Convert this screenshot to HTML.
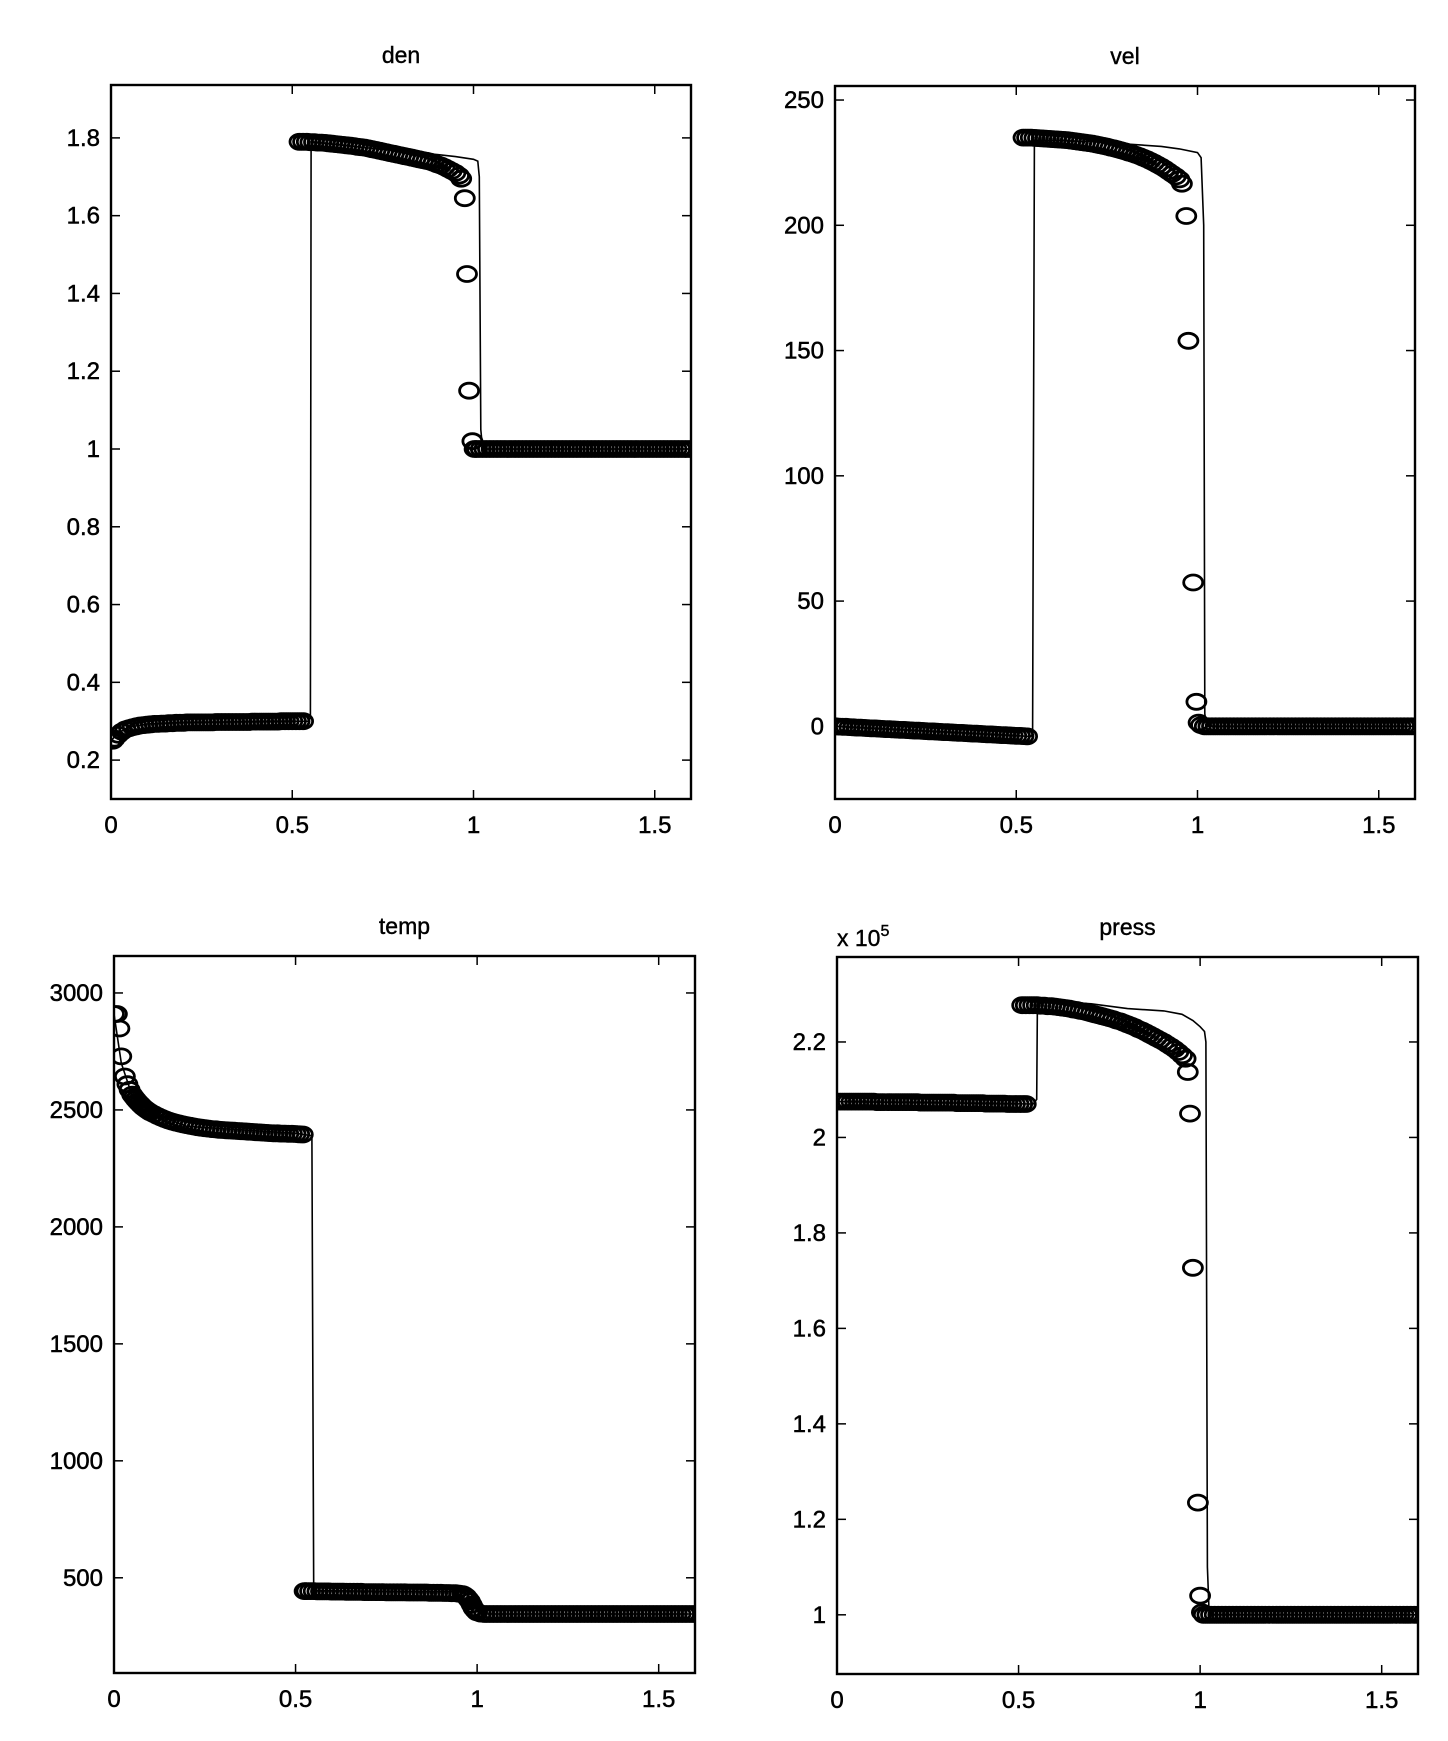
<!DOCTYPE html>
<html><head><meta charset="utf-8"><title>Shock tube profiles</title>
<style>
html,body{margin:0;padding:0;background:#fff;}
svg{display:block;font-family:"Liberation Sans",Arial,sans-serif;}
</style></head>
<body>
<svg id="fig" width="1448" height="1741" viewBox="0 0 1448 1741" xmlns="http://www.w3.org/2000/svg"></svg>
<script>
// ---- shared x ticks ----
const xTicks = [0, 0.5, 1, 1.5];
const xTickLabels = ["0", "0.5", "1", "1.5"];

// ---- den ----
const denTicks = [0.2,0.4,0.6,0.8,1,1.2,1.4,1.6,1.8];
const denTickLabels = ["0.2","0.4","0.6","0.8","1","1.2","1.4","1.6","1.8"];
const denCircles = [[0,0.25],[0.005,0.25],[0.01,0.255],[0.02,0.265],[0.03,0.273],[0.04,0.279],[0.05,0.282],[0.06,0.285],[0.07,0.287],[0.08,0.289],[0.09,0.29],[0.10,0.291],[0.11,0.292],[0.12,0.293],[0.13,0.293],[0.14,0.294],[0.15,0.294],[0.16,0.295],[0.17,0.295],[0.18,0.296],[0.19,0.296],[0.20,0.296],
[0.21,0.297],[0.22,0.297],[0.23,0.297],[0.24,0.297],[0.25,0.297],[0.26,0.297],[0.27,0.297],[0.28,0.297],[0.29,0.298],[0.30,0.298],[0.31,0.298],[0.32,0.298],[0.33,0.298],[0.34,0.298],[0.35,0.298],[0.36,0.298],[0.37,0.298],[0.38,0.298],[0.39,0.299],[0.40,0.299],[0.41,0.299],[0.42,0.299],[0.43,0.299],[0.44,0.299],[0.45,0.299],[0.46,0.299],[0.47,0.3],[0.48,0.3],[0.49,0.3],[0.50,0.3],[0.51,0.3],[0.52,0.3],[0.53,0.3],
[0.52,1.79],[0.53,1.79],[0.54,1.79],[0.55,1.789],[0.56,1.789],[0.57,1.788],[0.58,1.788],[0.59,1.787],[0.60,1.786],[0.61,1.785],[0.62,1.784],[0.63,1.783],[0.64,1.782],[0.65,1.781],[0.66,1.78],[0.67,1.779],[0.68,1.777],[0.69,1.776],[0.70,1.775],[0.71,1.773],[0.72,1.771],[0.73,1.769],[0.74,1.767],[0.75,1.765],[0.76,1.763],[0.77,1.761],[0.78,1.759],[0.79,1.757],[0.80,1.755],[0.81,1.753],[0.82,1.751],[0.83,1.749],[0.84,1.747],[0.85,1.745],[0.86,1.743],[0.87,1.741],[0.88,1.739],[0.89,1.736],[0.90,1.732],[0.91,1.729],[0.92,1.725],[0.93,1.72],[0.94,1.715],[0.95,1.71],[0.96,1.703],
[0.966,1.695],[0.976,1.645],[0.982,1.45],[0.988,1.15],[0.997,1.02],[1.003,1.0],[1.01,1.0],
[1.02,1],[1.03,1],[1.04,1],[1.05,1],[1.06,1],[1.07,1],[1.08,1],[1.09,1],[1.10,1],[1.11,1],[1.12,1],[1.13,1],[1.14,1],[1.15,1],[1.16,1],[1.17,1],[1.18,1],[1.19,1],[1.20,1],[1.21,1],[1.22,1],[1.23,1],[1.24,1],[1.25,1],[1.26,1],[1.27,1],[1.28,1],[1.29,1],[1.30,1],[1.31,1],[1.32,1],[1.33,1],[1.34,1],[1.35,1],[1.36,1],[1.37,1],[1.38,1],[1.39,1],[1.40,1],[1.41,1],[1.42,1],[1.43,1],[1.44,1],[1.45,1],[1.46,1],[1.47,1],[1.48,1],[1.49,1],[1.50,1],[1.51,1],[1.52,1],[1.53,1],[1.54,1],[1.55,1],[1.56,1],[1.57,1],[1.58,1],[1.59,1],[1.60,1]];
const denLine = [[0,0.25],[0.02,0.27],[0.05,0.285],[0.1,0.293],[0.2,0.297],[0.545,0.3],[0.55,0.31],[0.552,1.79],[0.6,1.785],[0.7,1.775],[0.8,1.765],[0.9,1.757],[0.95,1.752],[1.0,1.745],[1.012,1.74],[1.016,1.7],[1.02,1.05],[1.025,1.0],[1.6,1.0]];

// ---- vel ----
const velTicks = [0,50,100,150,200,250];
const velTickLabels = ["0","50","100","150","200","250"];
const velCircles = [[0,0],[0.01,-0.1],[0.02,-0.2],[0.03,-0.2],[0.04,-0.3],[0.05,-0.4],[0.06,-0.5],[0.07,-0.5],[0.08,-0.6],[0.09,-0.7],[0.10,-0.8],[0.11,-0.8],[0.12,-0.9],[0.13,-1.0],[0.14,-1.1],[0.15,-1.1],[0.16,-1.2],[0.17,-1.3],[0.18,-1.4],[0.19,-1.4],[0.20,-1.5],[0.21,-1.6],[0.22,-1.7],[0.23,-1.7],[0.24,-1.8],[0.25,-1.9],[0.26,-2.0],[0.27,-2.0],[0.28,-2.1],[0.29,-2.2],[0.30,-2.3],[0.31,-2.3],[0.32,-2.4],[0.33,-2.5],[0.34,-2.6],[0.35,-2.6],[0.36,-2.7],[0.37,-2.8],[0.38,-2.9],[0.39,-2.9],[0.40,-3.0],[0.41,-3.1],[0.42,-3.2],[0.43,-3.2],[0.44,-3.3],[0.45,-3.4],[0.46,-3.5],[0.47,-3.5],[0.48,-3.6],[0.49,-3.7],[0.50,-3.8],[0.51,-3.8],[0.52,-3.9],[0.53,-4.0],
[0.52,235],[0.53,235],[0.54,235],[0.55,234.9],[0.56,234.8],[0.57,234.7],[0.58,234.6],[0.59,234.5],[0.60,234.4],[0.61,234.3],[0.62,234.2],[0.63,234.1],[0.64,234],[0.65,233.8],[0.66,233.6],[0.67,233.4],[0.68,233.2],[0.69,233],[0.70,232.8],[0.71,232.6],[0.72,232.3],[0.73,232],[0.74,231.7],[0.75,231.4],[0.76,231],[0.77,230.7],[0.78,230.3],[0.79,229.9],[0.80,229.5],[0.81,229],[0.82,228.6],[0.83,228.1],[0.84,227.6],[0.85,227],[0.86,226.4],[0.87,225.7],[0.88,225],[0.89,224.2],[0.90,223.4],[0.91,222.5],[0.92,221.5],[0.93,220.5],[0.94,219.5],[0.95,218.3],
[0.957,216.6],[0.969,203.7],[0.975,153.9],[0.988,57.4],[0.997,9.8],[1.003,1.5],[1.01,0.5],
[1.02,0],[1.03,0],[1.04,0],[1.05,0],[1.06,0],[1.07,0],[1.08,0],[1.09,0],[1.10,0],[1.11,0],[1.12,0],[1.13,0],[1.14,0],[1.15,0],[1.16,0],[1.17,0],[1.18,0],[1.19,0],[1.20,0],[1.21,0],[1.22,0],[1.23,0],[1.24,0],[1.25,0],[1.26,0],[1.27,0],[1.28,0],[1.29,0],[1.30,0],[1.31,0],[1.32,0],[1.33,0],[1.34,0],[1.35,0],[1.36,0],[1.37,0],[1.38,0],[1.39,0],[1.40,0],[1.41,0],[1.42,0],[1.43,0],[1.44,0],[1.45,0],[1.46,0],[1.47,0],[1.48,0],[1.49,0],[1.50,0],[1.51,0],[1.52,0],[1.53,0],[1.54,0],[1.55,0],[1.56,0],[1.57,0],[1.58,0],[1.59,0],[1.60,0]];
const velLine = [[0,0],[0.54,-4],[0.545,-3],[0.55,234],[0.7,233.5],[0.8,232.5],[0.9,231.5],[0.95,230.5],[1.0,229],[1.01,227],[1.017,200],[1.02,5],[1.025,0],[1.6,0]];

// ---- temp ----
const tempTicks = [500,1000,1500,2000,2500,3000];
const tempTickLabels = ["500","1000","1500","2000","2500","3000"];
const tempCircles = [[0,2910],[0.008,2910],[0.015,2848],[0.02,2729],[0.03,2643],[0.037,2610],[0.043,2586],[0.05,2565],[0.055,2555],[0.06,2545],[0.065,2536],[0.07,2528],[0.075,2520],[0.08,2512],[0.085,2506],[0.09,2500],[0.095,2495],
[0.10,2490],[0.11,2482],[0.12,2474],[0.13,2467],[0.14,2461],[0.15,2455],[0.16,2450],[0.17,2446],[0.18,2442],[0.19,2438],[0.20,2435],[0.21,2432],[0.22,2429],[0.23,2426],[0.24,2424],[0.25,2422],[0.26,2420],[0.27,2418],[0.28,2417],[0.29,2415],[0.30,2414],[0.31,2413],[0.32,2412],[0.33,2411],[0.34,2410],[0.35,2409],[0.36,2408],[0.37,2407],[0.38,2406],[0.39,2405],[0.40,2404],[0.41,2403],[0.42,2402],[0.43,2401],[0.44,2400],[0.45,2400],[0.46,2399],[0.47,2399],[0.48,2398],[0.49,2398],[0.50,2397],[0.51,2396],[0.52,2395],
[0.525,443],[0.53,443],[0.54,443],[0.55,443],[0.56,442],[0.57,442],[0.58,442],[0.59,442],[0.60,441],[0.61,441],[0.62,441],[0.63,441],[0.64,440],[0.65,440],[0.66,440],[0.67,440],[0.68,440],[0.69,439],[0.70,439],[0.71,439],[0.72,439],[0.73,439],[0.74,439],[0.75,438],[0.76,438],[0.77,438],[0.78,438],[0.79,438],[0.80,438],[0.81,437],[0.82,437],[0.83,437],[0.84,437],[0.85,437],[0.86,437],[0.87,436],[0.88,436],[0.89,436],[0.90,436],[0.91,435],[0.92,435],[0.93,434],[0.94,434],[0.95,432],[0.96,430],[0.965,426],[0.97,420],[0.975,410],[0.98,400],[0.985,385],[0.99,370],[0.995,360],[1.0,352],[1.01,347],
[1.02,345],[1.03,345],[1.04,345],[1.05,345],[1.06,345],[1.07,345],[1.08,345],[1.09,345],[1.10,345],[1.11,345],[1.12,345],[1.13,345],[1.14,345],[1.15,345],[1.16,345],[1.17,345],[1.18,345],[1.19,345],[1.20,345],[1.21,345],[1.22,345],[1.23,345],[1.24,345],[1.25,345],[1.26,345],[1.27,345],[1.28,345],[1.29,345],[1.30,345],[1.31,345],[1.32,345],[1.33,345],[1.34,345],[1.35,345],[1.36,345],[1.37,345],[1.38,345],[1.39,345],[1.40,345],[1.41,345],[1.42,345],[1.43,345],[1.44,345],[1.45,345],[1.46,345],[1.47,345],[1.48,345],[1.49,345],[1.50,345],[1.51,345],[1.52,345],[1.53,345],[1.54,345],[1.55,345],[1.56,345],[1.57,345],[1.58,345],[1.59,345],[1.60,345]];
const tempLine = [[0,2910],[0.02,2700],[0.05,2560],[0.1,2490],[0.2,2430],[0.5,2400],[0.545,2390],[0.55,445],[0.97,440],[0.985,435],[0.99,420],[1.0,412],[1.01,360],[1.02,345],[1.6,345]];

// ---- press (x 10^5) ----
const pressTicks = [1,1.2,1.4,1.6,1.8,2,2.2];
const pressTickLabels = ["1","1.2","1.4","1.6","1.8","2","2.2"];
const pressCircles = [[0,2.075],[0.01,2.075],[0.02,2.075],[0.03,2.075],[0.04,2.075],[0.05,2.075],[0.06,2.075],[0.07,2.075],[0.08,2.075],[0.09,2.075],[0.10,2.075],[0.11,2.074],[0.12,2.074],[0.13,2.074],[0.14,2.074],[0.15,2.074],[0.16,2.074],[0.17,2.074],[0.18,2.074],[0.19,2.074],[0.20,2.074],[0.21,2.074],[0.22,2.074],[0.23,2.073],[0.24,2.073],[0.25,2.073],[0.26,2.073],[0.27,2.073],[0.28,2.073],[0.29,2.073],[0.30,2.073],[0.31,2.073],[0.32,2.073],[0.33,2.072],[0.34,2.072],[0.35,2.072],[0.36,2.072],[0.37,2.072],[0.38,2.072],[0.39,2.072],[0.40,2.072],[0.41,2.071],[0.42,2.071],[0.43,2.071],[0.44,2.071],[0.45,2.071],[0.46,2.071],[0.47,2.070],[0.48,2.070],[0.49,2.070],[0.50,2.070],[0.51,2.070],[0.52,2.070],
[0.51,2.277],[0.52,2.277],[0.53,2.277],[0.54,2.277],[0.55,2.277],[0.56,2.276],[0.57,2.276],[0.58,2.275],[0.59,2.275],[0.60,2.274],[0.61,2.273],[0.62,2.272],[0.63,2.271],[0.64,2.27],[0.65,2.268],[0.66,2.267],[0.67,2.265],[0.68,2.264],[0.69,2.262],[0.70,2.26],[0.71,2.258],[0.72,2.256],[0.73,2.254],[0.74,2.252],[0.75,2.25],[0.76,2.248],[0.77,2.245],[0.78,2.243],[0.79,2.24],[0.80,2.237],[0.81,2.234],[0.82,2.231],[0.83,2.227],[0.84,2.224],[0.85,2.22],[0.86,2.216],[0.87,2.212],[0.88,2.208],[0.89,2.204],[0.90,2.2],[0.91,2.195],[0.92,2.19],[0.93,2.185],[0.94,2.179],[0.95,2.172],[0.96,2.165],
[0.966,2.137],[0.972,2.05],[0.98,1.727],[0.994,1.235],[1.0,1.04],[1.005,1.005],[1.01,1.0],
[1.02,1],[1.03,1],[1.04,1],[1.05,1],[1.06,1],[1.07,1],[1.08,1],[1.09,1],[1.10,1],[1.11,1],[1.12,1],[1.13,1],[1.14,1],[1.15,1],[1.16,1],[1.17,1],[1.18,1],[1.19,1],[1.20,1],[1.21,1],[1.22,1],[1.23,1],[1.24,1],[1.25,1],[1.26,1],[1.27,1],[1.28,1],[1.29,1],[1.30,1],[1.31,1],[1.32,1],[1.33,1],[1.34,1],[1.35,1],[1.36,1],[1.37,1],[1.38,1],[1.39,1],[1.40,1],[1.41,1],[1.42,1],[1.43,1],[1.44,1],[1.45,1],[1.46,1],[1.47,1],[1.48,1],[1.49,1],[1.50,1],[1.51,1],[1.52,1],[1.53,1],[1.54,1],[1.55,1],[1.56,1],[1.57,1],[1.58,1],[1.59,1],[1.60,1]];
const pressLine = [[0,2.075],[0.54,2.07],[0.55,2.08],[0.552,2.28],[0.6,2.285],[0.7,2.28],[0.8,2.27],[0.9,2.265],[0.95,2.258],[0.98,2.245],[1.0,2.232],[1.012,2.222],[1.016,2.2],[1.02,1.1],[1.025,1.0],[1.6,1.0]];

const NS = "http://www.w3.org/2000/svg";
const svg = document.getElementById('fig');
function mk(tag, attrs, parent){
  const e = document.createElementNS(NS, tag);
  for (const k in attrs) e.setAttribute(k, attrs[k]);
  parent.appendChild(e);
  return e;
}

function panel(name, title, box, xr, yr, yT, yL, circles, line){
  const g = mk('g', {}, svg);
  
  
  const sx = v => box.L + (v - xr[0]) / (xr[1] - xr[0]) * (box.R - box.L);
  const sy = v => box.B - (v - yr[0]) / (yr[1] - yr[0]) * (box.B - box.T);
  const cid = 'clip-' + name;
  const cp = mk('clipPath', {id: cid}, g);
  mk('rect', {x: box.L, y: box.T, width: box.R - box.L, height: box.B - box.T}, cp);
  const fr = mk('rect', {x: box.L, y: box.T, width: box.R - box.L, height: box.B - box.T, fill: 'none', stroke: '#000', 'stroke-width': 2.4}, g);
  
  
  const t = mk('text', {x: (box.L + box.R) / 2, y: box.T - 22, 'text-anchor': 'middle', 'font-size': 23, stroke: '#000', 'stroke-width': 0.4}, g);
  t.textContent = title;
  
  
  xTicks.forEach((v, i) => {
    const x = sx(v);
    mk('line', {x1: x, y1: box.B, x2: x, y2: box.B - 9, stroke: '#000', 'stroke-width': 1.5}, g);
    mk('line', {x1: x, y1: box.T, x2: x, y2: box.T + 9, stroke: '#000', 'stroke-width': 1.5}, g);
    const tx = mk('text', {x: x, y: box.B + 34, 'text-anchor': 'middle', 'font-size': 24, stroke: '#000', 'stroke-width': 0.5}, g);
    tx.textContent = xTickLabels[i];
    
    
  });
  yT.forEach((v, i) => {
    const y = sy(v);
    mk('line', {x1: box.L, y1: y, x2: box.L + 9, y2: y, stroke: '#000', 'stroke-width': 1.5}, g);
    mk('line', {x1: box.R, y1: y, x2: box.R - 9, y2: y, stroke: '#000', 'stroke-width': 1.5}, g);
    const ty = mk('text', {x: box.L - 11, y: y + 8, 'text-anchor': 'end', 'font-size': 24, stroke: '#000', 'stroke-width': 0.5}, g);
    ty.textContent = yL[i];
    
    
  });
  const plot = mk('g', {'clip-path': 'url(#' + cid + ')'}, g);
  const pl = mk('polyline', {points: line.map(p => sx(p[0]).toFixed(1) + ',' + sy(p[1]).toFixed(1)).join(' '), fill: 'none', stroke: '#000', 'stroke-width': 1.6}, plot);
  
  
  circles.forEach(p => {
    const c = mk('ellipse', {cx: sx(p[0]).toFixed(1), cy: sy(p[1]).toFixed(1), rx: 9.5, ry: 7.5, fill: 'none', stroke: '#000', 'stroke-width': 2.8}, plot);
    
    
  });
  return {sx, sy};
}

panel('den', 'den', {L:111, R:691, T:85, B:799}, [0,1.6], [0.1,1.936], denTicks, denTickLabels, denCircles, denLine);
panel('vel', 'vel', {L:835, R:1415, T:86, B:799}, [0,1.6], [-29,255.6], velTicks, velTickLabels, velCircles, velLine);
panel('temp', 'temp', {L:114, R:695, T:956, B:1673}, [0,1.6], [93,3158], tempTicks, tempTickLabels, tempCircles, tempLine);
panel('press', 'press', {L:837, R:1418, T:957, B:1674}, [0,1.6], [0.876,2.378], pressTicks, pressTickLabels, pressCircles, pressLine);

const ex = mk('text', {x: 837, y: 946, 'font-size': 23, stroke: '#000', 'stroke-width': 0.4}, svg);


ex.appendChild(document.createTextNode('x 10'));
const sup = mk('tspan', {dy: -10, 'font-size': 16}, ex);
sup.textContent = '5';
</script>
</body></html>
